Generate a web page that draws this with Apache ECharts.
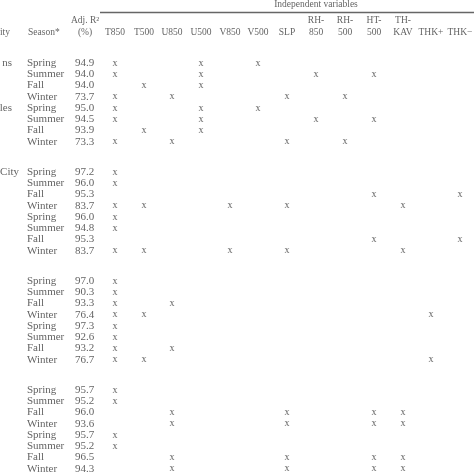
<!DOCTYPE html><html><head><meta charset="utf-8"><script src="https://cdn.jsdelivr.net/npm/echarts@6/dist/echarts.min.js"></script>
<style>html,body{margin:0;padding:0;background:#fff}#c{width:474px;height:474px}</style></head><body><div id="c"></div>
<script>
const columns=["T850","T500","U850","U500","V850","V500","SLP","RH-\n850","RH-\n500","HT-\n500","TH-\nKAV","THK+","THK\u2212"];
const seasons=["Spring","Summer","Fall","Winter","Spring","Summer","Fall","Winter"];
const r2=[[94.9,94.0,94.0,73.7,95.0,94.5,93.9,73.3],[97.2,96.0,95.3,83.7,96.0,94.8,95.3,83.7],[97.0,90.3,93.3,76.4,97.3,92.6,93.2,76.7],[95.7,95.2,96.0,93.6,95.7,95.2,96.5,94.3]];
const marks=[
[["T850","U500","V500"],["T850","U500","RH-\n850","HT-\n500"],["T500","U500"],["T850","U850","SLP","RH-\n500"],["T850","U500","V500"],["T850","U500","RH-\n850","HT-\n500"],["T500","U500"],["T850","U850","SLP","RH-\n500"]],
[["T850"],["T850"],["HT-\n500","THK\u2212"],["T850","T500","V850","SLP","TH-\nKAV"],["T850"],["T850"],["HT-\n500","THK\u2212"],["T850","T500","V850","SLP","TH-\nKAV"]],
[["T850"],["T850"],["T850","U850"],["T850","T500","THK+"],["T850"],["T850"],["T850","U850"],["T850","T500","THK+"]],
[["T850"],["T850"],["U850","SLP","HT-\n500","TH-\nKAV"],["U850","SLP","HT-\n500","TH-\nKAV"],["T850"],["T850"],["U850","SLP","HT-\n500","TH-\nKAV"],["U850","SLP","HT-\n500","TH-\nKAV"]]];
const cityLabels=[["ns",0],["les",4],["City",8]];
const colX=[115,144,172,201,230,258,287,316,345,374,403,431,460];
const rowY=(g,r)=>63+g*109+r*11.25;
const F='"Liberation Serif","DejaVu Serif",serif', C='#3a3a3a';
const txt=[],xs=[],hdr=[];
r2.forEach((vals,g)=>vals.forEach((v,r)=>{
  txt.push({value:[27,rowY(g,r)],name:seasons[r],align:'left'});
  txt.push({value:[75,rowY(g,r)],name:v.toFixed(1),align:'left'});
  marks[g][r].forEach(c=>xs.push([colX[columns.indexOf(c)],rowY(g,r)]));
}));
cityLabels.forEach(([t,i])=>{const g=Math.floor(i/8),r=i%8;txt.push({value:[i==8?19:12,rowY(g,r)],name:t,align:'right'});});
columns.forEach((c,i)=>hdr.push({value:[colX[i],c.includes('\n')?26:32],name:c,align:'center'}));
hdr.push({value:[28,32],name:'Season*',align:'left'});
hdr.push({value:[85,26],name:'Adj. R\u00b2\n(%)',align:'center'});
hdr.push({value:[10,32],name:'ity',align:'right'});
hdr.push({value:[316,4],name:'Independent variables',align:'center'});
const lab=(fs)=>({show:true,position:'inside',formatter:p=>p.name,color:C,fontFamily:F,fontSize:fs,lineHeight:12});
const chart=echarts.init(document.getElementById('c'));
chart.setOption({animation:false,
 grid:{left:0,right:0,top:0,bottom:0},
 xAxis:{type:'value',min:0,max:474,show:false},
 yAxis:{type:'value',min:0,max:474,inverse:true,show:false},
 series:[
  {type:'scatter',symbolSize:0,data:txt.map(d=>({...d,label:{...lab(11),align:d.align}})),silent:true},
  {type:'scatter',symbolSize:0,data:hdr.map(d=>({...d,label:{...lab(9.5),align:d.align}})),silent:true},
  {type:'scatter',symbolSize:0,data:xs.map(v=>({value:v,name:'x'})),label:lab(10),silent:true,
   markLine:{silent:true,symbol:'none',label:{show:false},lineStyle:{color:'#666',type:'solid',width:1.3},
    data:[[{coord:[100,12]},{coord:[474,12]}]]}}
 ]});
</script></body></html>
